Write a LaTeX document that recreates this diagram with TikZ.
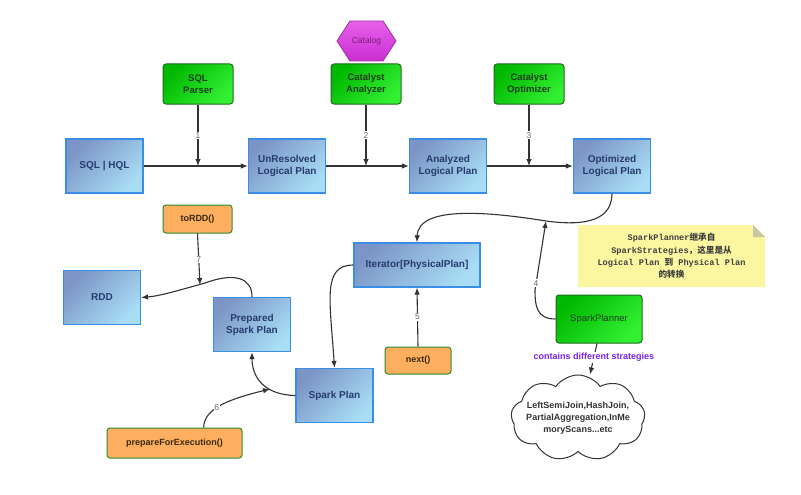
\documentclass[tikz,border=0pt]{standalone}
\usepackage{fontspec}
\setmainfont{Liberation Sans}
\newfontfamily\monofont{Liberation Mono}
\newfontfamily\cjk{Noto Sans CJK SC}
\usetikzlibrary{arrows.meta,shapes.symbols,shapes.geometric}
\definecolor{bluebd}{HTML}{3A8EE6}
\definecolor{blueA}{HTML}{7C95C6}
\definecolor{blueB}{HTML}{A8DDF5}
\definecolor{bluetx}{HTML}{273C6E}
\definecolor{greenA}{HTML}{00B800}
\definecolor{greenB}{HTML}{33F033}
\definecolor{greenbd}{HTML}{1E6B1E}
\definecolor{greentx}{HTML}{1F3F1F}
\definecolor{orangef}{HTML}{FDAE5E}
\definecolor{orangebd}{HTML}{2E8B2E}
\definecolor{orangetx}{HTML}{3A2A10}
\definecolor{magA}{HTML}{E660EA}
\definecolor{magB}{HTML}{CC2ED2}
\definecolor{magbd}{HTML}{9B3B9B}
\definecolor{magtx}{HTML}{7A1F7A}
\definecolor{notef}{HTML}{FAF7A0}
\definecolor{notefold}{HTML}{C9C6A6}
\definecolor{purp}{HTML}{7A22F0}
\definecolor{arrowc}{HTML}{333333}
\tikzset{
  bluebox/.style={draw=bluebd, line width=1.2pt, left color=blueA, right color=blueB, shading angle=45,
    minimum width=77pt, minimum height=54pt, inner sep=2pt, align=center,
    font=\bfseries\fontsize{10}{12}\selectfont, text=bluetx},
  greenbox/.style={draw=greenbd, line width=1pt, rounded corners=3pt, left color=greenA, right color=greenB, shading angle=45,
    minimum width=70pt, minimum height=40pt, inner sep=2pt, align=center,
    font=\bfseries\fontsize{9.5}{11.5}\selectfont, text=greentx},
  orangebox/.style={draw=orangebd, line width=1pt, rounded corners=3pt, fill=orangef,
    minimum height=28pt, inner sep=2pt, align=center,
    font=\bfseries\fontsize{9}{11}\selectfont, text=orangetx},
  conn/.style={draw=arrowc, line width=1.1pt, -{Latex[length=7pt,width=5.5pt]}},
  num/.style={fill=white, inner sep=0.8pt, font=\fontsize{8.5}{9}\selectfont, text=black!60},
  plabel/.style={fill=white, inner sep=1pt, font=\bfseries\fontsize{9}{10}\selectfont, text=purp},
}
\begin{document}
\begin{tikzpicture}[x=1pt,y=-1pt]
\useasboundingbox[fill=white] (0,0) rectangle (801,495);
% main row
\node[bluebox] (sql) at (104.5,166) {SQL | HQL};
\node[bluebox] (unres) at (287,166) {UnResolved\\Logical Plan};
\node[bluebox] (anal) at (448,166) {Analyzed\\Logical Plan};
\node[bluebox] (opt) at (612,166) {Optimized\\Logical Plan};
% green tools
\node[greenbox] (parser) at (198,84) {SQL\\Parser};
\node[greenbox] (analyzer) at (366,84) {Catalyst\\Analyzer};
\node[greenbox] (optimizer) at (529,84) {Catalyst\\Optimizer};
% catalog hexagon
\path[draw=magbd, line width=0.9pt, top color=magA, bottom color=magB]
  (337,41) -- (350,21) -- (383,21) -- (396,41) -- (383,61) -- (350,61) -- cycle;
\node[font=\fontsize{8.5}{10}\selectfont, text=magtx, minimum width=59pt, minimum height=40pt] (catalog) at (366.5,41) {Catalog};
% physical part
\node[bluebox, minimum width=126pt, minimum height=44pt] (iter) at (417,265) {Iterator[PhysicalPlan]};
\node[bluebox] (pp) at (252,324.5) {Prepared\\Spark Plan};
\node[bluebox] (rdd) at (102,297.5) {RDD};
\node[bluebox] (spk) at (334.5,395.5) {Spark Plan};
\node[orangebox, minimum width=69pt] (tordd) at (197.5,219) {toRDD()};
\node[orangebox, minimum width=66pt, minimum height=27pt] (next) at (418,360.5) {next()};
\node[orangebox, minimum width=135pt, minimum height=30pt] (pfe) at (174.5,443) {prepareForExecution()};
\node[greenbox, minimum width=86pt, minimum height=48pt, font=\fontsize{9.5}{11.5}\selectfont] (planner) at (599,319) {SparkPlanner};
% cloud
\node[cloud, cloud puffs=9, cloud puff arc=110, cloud ignores aspect, draw=arrowc, line width=1pt, fill=white,
  minimum width=134pt, minimum height=86pt, inner sep=0pt,
  label={[align=center, font=\bfseries\fontsize{9}{12}\selectfont, text=black!80]center:LeftSemiJoin,HashJoin,\\PartialAggregation,InMe\\moryScans...etc}] (cloud) at (578,418) {};
% note
\path[fill=notef] (578,225) -- (753,225) -- (765,237) -- (765,287) -- (578,287) -- cycle;
\path[fill=notefold] (753,225) -- (765,237) -- (753,237) -- cycle;
\node[align=center, font=\bfseries\fontsize{8.6}{12.3}\selectfont, text=black!75, inner sep=0pt] (note) at (671.5,256)
  {{\monofont SparkPlanner}{\cjk 继承自}\\
   {\monofont SparkStrategies}{\cjk ，这里是从}\\
   {\monofont Logical Plan }{\cjk 到}{\monofont{} Physical Plan}\\
   {\cjk 的转换}};
% connectors: logical part
\coordinate (c1) at (198,166);
\coordinate (c2) at (366,166);
\coordinate (c3) at (529,166);
\draw[conn] (sql.east) -- (unres.west);
\draw[conn] (unres.east) -- (anal.west);
\draw[conn] (anal.east) -- (opt.west);
\draw[conn] (parser.south) -- node[num]{1} (c1);
\draw[conn] (analyzer.south) -- node[num]{2} (c2);
\draw[conn] (optimizer.south) -- node[num]{3} (c3);
% optimized -> iterator
\coordinate (c4) at (546,221);
\draw[conn] (opt.south) .. controls (612,225) and (575,225) .. (c4) .. controls (490,212) and (418,205) .. (iter.north);
\draw[conn] (planner.west) .. controls (536,319) and (535,305) .. (535,290) -- node[num, pos=0.1]{4} (c4);
% iterator -> spark plan
\draw[conn] (iter.west) .. controls (322,265) and (330,300) .. (spk.north);
\draw[conn] (next.north) -- node[num]{5} (iter.south);
% spark plan -> prepared
\coordinate (c6) at (270,389);
\draw[conn] (spk.west) .. controls (265,395) and (252,378) .. (pp.south);
\draw[conn] (pfe.28) .. controls (204,408) and (230,399) .. node[num, pos=0.42]{6} (c6);
% prepared -> rdd
\coordinate (c7) at (200,285);
\draw[conn] (pp.north) .. controls (252,278) and (235,272) .. (205,283) .. controls (180,290) and (160,296) .. (rdd.east);
\draw[conn] (tordd.south) -- node[num]{7} (c7);
% planner -> cloud
\draw[conn] ([xshift=-2pt]planner.south) -- node[plabel, pos=0.45]{contains different strategies} ([xshift=12pt]cloud.north);
\end{tikzpicture}
\end{document}
